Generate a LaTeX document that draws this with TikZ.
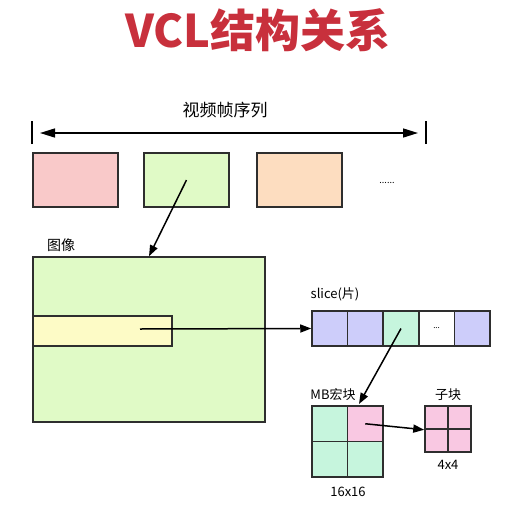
\documentclass[tikz,border=0pt]{standalone}
\usepackage{fontspec}
\setmainfont{Noto Sans CJK SC}
\usetikzlibrary{arrows.meta}

\definecolor{titlered}{HTML}{C8303C}
\definecolor{edgegray}{HTML}{2E2E2E}
\definecolor{framepink}{HTML}{F9C9C9}
\definecolor{framegreen}{HTML}{E0FAC6}
\definecolor{frameorange}{HTML}{FDDDC0}
\definecolor{stripyellow}{HTML}{FDFBC6}
\definecolor{slicepurple}{HTML}{CDCDFA}
\definecolor{mbmint}{HTML}{C6F5DD}
\definecolor{blockpink}{HTML}{F9C8E2}

\begin{document}
\begin{tikzpicture}[x=1pt,y=-1pt,
    box/.style={draw=edgegray,line width=1.5pt,inner sep=0pt},
    frame/.style={box,minimum width=85pt,minimum height=54pt},
    cell/.style={box,minimum width=35.6pt,minimum height=35pt},
    mbcell/.style={box,minimum width=35.5pt,minimum height=35.5pt},
    subcell/.style={box,minimum width=23pt,minimum height=23pt,fill=blockpink},
    lbl/.style={font=\fontsize{13}{15}\selectfont,inner sep=0pt},
    arr/.style={draw=black,line width=1.5pt,-{Triangle[length=11pt,width=8pt]}}]
    \useasboundingbox (0,0) rectangle (515,515);

    %title
    \node[font=\fontsize{45}{50}\selectfont\bfseries,text=titlered] (title) at (258,30) {VCL结构关系};

    %frame sequence
    \node[font=\fontsize{17}{19}\selectfont,inner sep=0pt] (seqlabel) at (225,110) {视频帧序列};
    \coordinate (seqL) at (32,133);
    \coordinate (seqR) at (426,133);
    \draw[line width=1.5pt] ([yshift=-11pt] seqL) -- ([yshift=12pt] seqL);
    \draw[line width=1.5pt] ([yshift=-11pt] seqR) -- ([yshift=12pt] seqR);
    \draw[line width=1.5pt,{Triangle[length=15pt,width=9pt]}-{Triangle[length=15pt,width=9pt]}] ([xshift=8pt] seqL) -- ([xshift=-8pt] seqR);

    \node[frame,fill=framepink] (f1) at (75.5,180) {};
    \node[frame,fill=framegreen] (f2) at (186.5,180) {};
    \node[frame,fill=frameorange] (f3) at (299.5,180) {};
    \node[font=\fontsize{9}{10}\selectfont,inner sep=0pt] (more) at (387,183) {......};

    %picture
    \node[lbl,font=\fontsize{14}{16}\selectfont] (piclabel) at (61,245) {图像};
    \node[box,fill=framegreen,minimum width=232pt,minimum height=165pt] (pic) at (149,339.5) {};
    \node[box,fill=stripyellow,minimum width=139pt,minimum height=30pt] (strip) at (102.5,331) {};
    \coordinate (stripend) at (140,329);

    %slice
    \node[lbl] (slicelabel) at (335,294) {slice(片)};
    \node[cell,fill=slicepurple] (s1) at (329.8,328.5) {};
    \node[cell,fill=slicepurple] (s2) at (365.4,328.5) {};
    \node[cell,fill=mbmint] (s3) at (401,328.5) {};
    \node[cell,fill=white] (s4) at (436.6,328.5) {\fontsize{8}{9}\selectfont ...};
    \node[cell,fill=slicepurple] (s5) at (472.2,328.5) {};

    %macroblock
    \node[lbl] (mblabel) at (333,395) {MB宏块};
    \node[mbcell,fill=mbmint] (mb1) at (329.75,423.75) {};
    \node[mbcell,fill=blockpink] (mb2) at (365.25,423.75) {};
    \node[mbcell,fill=mbmint] (mb3) at (329.75,459.25) {};
    \node[mbcell,fill=mbmint] (mb4) at (365.25,459.25) {};
    \node[lbl] (mbsize) at (348,492) {16x16};
    \coordinate (mbtop) at (359,404);

    %sub-block
    \node[lbl] (sublabel) at (448,395) {子块};
    \node[subcell] (sb1) at (436.5,417.5) {};
    \node[subcell] (sb2) at (459.5,417.5) {};
    \node[subcell] (sb3) at (436.5,440.5) {};
    \node[subcell] (sb4) at (459.5,440.5) {};
    \node[lbl] (subsize) at (448,465) {4x4};

    \draw[arr] (f2.center) -- (pic.north);
    \draw[arr] (stripend) -- (s1.west);
    \draw[arr] (s3.center) -- (mbtop);
    \draw[arr] (mb2.center) -- (sb1.south west);
\end{tikzpicture}
\end{document}
